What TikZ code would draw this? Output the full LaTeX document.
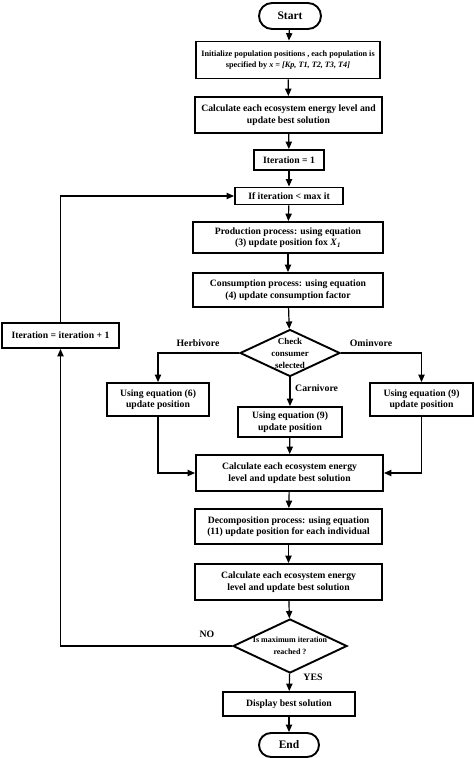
\documentclass[tikz,border=0pt]{standalone}
\usepackage{fontspec}
\setmainfont{Liberation Serif}
\usetikzlibrary{arrows.meta,positioning,shapes.geometric,shapes.misc}
\tikzset{
  >={Triangle[length=2.6mm,width=2.2mm]},
  box/.style={draw,line width=1.9pt,fill=white,inner sep=1pt,align=center,font=\bfseries\fontsize{9.7}{11.5}\selectfont},
  term/.style={box,rounded rectangle,font=\bfseries\fontsize{11.5}{13}\selectfont},
  dec/.style={draw,line width=1.9pt,diamond,inner sep=0pt},
  dtext/.style={align=center,font=\bfseries\fontsize{9}{12}\selectfont,inner sep=0pt},
  lbl/.style={font=\bfseries\fontsize{9.8}{11}\selectfont,inner sep=1pt},
  flow/.style={->,line width=1.2pt},
}

\begin{document}
\begin{tikzpicture}[x=1pt,y=-1pt]
  \useasboundingbox (0,0) rectangle (474,758);
  % main column
  \node[term,minimum width=64pt,minimum height=26pt] (start) at (290,16) {Start};
  \node[box,minimum width=184pt,minimum height=37pt,font=\bfseries\fontsize{8.2}{11.5}\selectfont] (init) at (288,60) {Initialize population positions , each population is\\specified by \textit{x = [Kp, T1, T2, T3, T4]}};
  \node[box,minimum width=187pt,minimum height=36pt] (calc1) at (288.5,115) {Calculate each ecosystem energy level and\\update best solution};
  \node[box,minimum width=70pt,minimum height=20pt] (iter1) at (289,160) {Iteration = 1};
  \node[box,minimum width=108pt,minimum height=17pt] (ifit) at (289,196) {If iteration < max it};
  \node[box,minimum width=190pt,minimum height=31pt] (prod) at (288,237.5) {Production process: using equation\\(3) update position fox \textit{X}\textsubscript{\textit{1}}};
  \node[box,minimum width=190pt,minimum height=34pt] (cons) at (288,290) {Consumption process: using equation\\(4) update consumption factor};
  \node[dec,minimum width=100pt,minimum height=47pt] (check) at (290,353) {};
  \node[dtext] (checkt) at (check.center) {Check\\consumer\\selected};
  % consumer branches
  \node[box,minimum width=102pt,minimum height=33pt] (herb) at (158,399.5) {Using equation (6)\\update position};
  \node[box,minimum width=104pt,minimum height=30pt] (carn) at (290,422) {Using equation (9)\\update position};
  \node[box,minimum width=103pt,minimum height=33pt] (omni) at (421.5,399.5) {Using equation (9)\\update position};
  \node[box,minimum width=187pt,minimum height=36pt] (calc2) at (289.5,473) {Calculate each ecosystem energy\\level and update best solution};
  \node[box,minimum width=187pt,minimum height=35pt] (decomp) at (288.5,526.5) {Decomposition process: using equation\\(11) update position for each individual};
  \node[box,minimum width=187pt,minimum height=36pt] (calc3) at (288.5,582) {Calculate each ecosystem energy\\level and update best solution};
  \node[dec,minimum width=114pt,minimum height=54pt] (maxit) at (290,646) {};
  \node[dtext,font=\bfseries\fontsize{8}{11.5}\selectfont] (maxitt) at (maxit.center) {Is maximum iteration\\reached ?};
  \node[box,minimum width=132pt,minimum height=24pt] (disp) at (289,704) {Display best solution};
  \node[term,minimum width=62pt,minimum height=24pt] (end) at (289,745) {End};
  % loop box
  \node[box,minimum width=117pt,minimum height=25pt] (inc) at (60.5,335.5) {Iteration = iteration + 1};
  % arrows
  \draw[flow] (start) -- (init);
  \draw[flow] (init) -- (calc1);
  \draw[flow] (calc1) -- (iter1);
  \draw[flow] (iter1) -- (ifit);
  \draw[flow] (ifit) -- (prod);
  \draw[flow] (prod) -- (cons);
  \draw[flow] (cons) -- (check);
  \draw[flow] (check.west) -| (herb.north);
  \draw[flow] (check.east) -| (omni.north);
  \draw[flow] (check.south) -- (carn.north);
  \draw[flow] (herb.south) |- (calc2.west);
  \draw[flow] (omni.south) |- (calc2.east);
  \draw[flow] (carn) -- (calc2);
  \draw[flow] (calc2) -- (decomp);
  \draw[flow] (decomp) -- (calc3);
  \draw[flow] (calc3) -- (maxit);
  \draw[flow] (maxit) -- (disp);
  \draw[flow] (disp) -- (end);
  \draw[flow] (maxit.west) -| (inc.south);
  \draw[flow] (inc.north) |- (ifit.west);
  % labels
  \node[lbl] (lherb) at (198,343) {Herbivore};
  \node[lbl] (lomni) at (371,343) {Ominvore};
  \node[lbl,anchor=west] (lcarn) at (294,388) {Carnivore};
  \node[lbl] (lno) at (207,634) {NO};
  \node[lbl] (lyes) at (313,677) {YES};
\end{tikzpicture}
\end{document}
